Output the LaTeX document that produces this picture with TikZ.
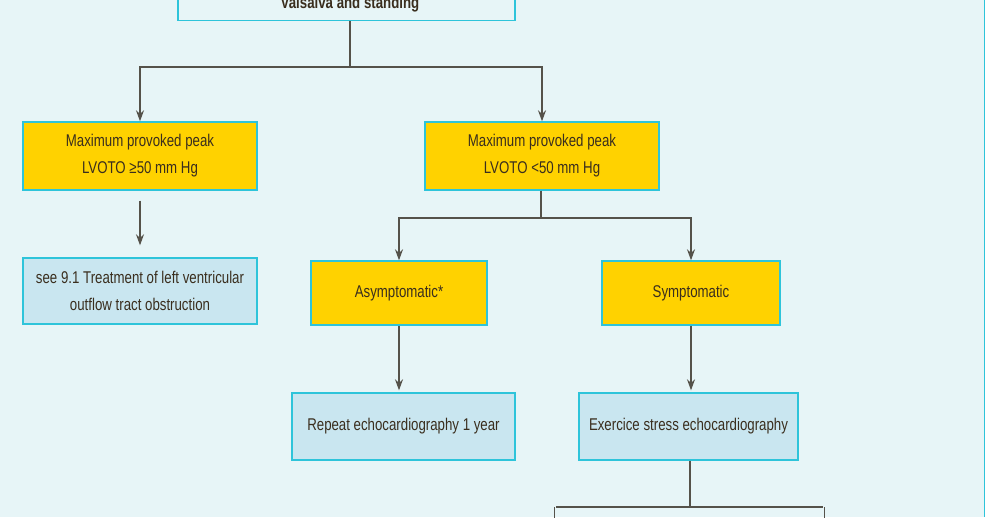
\documentclass[tikz,border=0pt]{standalone}
\usepackage{fontspec}
\setmainfont[FakeStretch=0.78]{Liberation Sans}
\definecolor{bg}{HTML}{E7F5F7}
\definecolor{yel}{HTML}{FFD200}
\definecolor{blu}{HTML}{C9E6F0}
\definecolor{brd}{HTML}{2EC4DA}
\definecolor{ln}{HTML}{55524A}
\definecolor{txt}{HTML}{3A2E1E}
\usetikzlibrary{arrows.meta}
\begin{document}
\begin{tikzpicture}[x=1pt,y=-1pt,
  box/.style={draw=brd,line width=1.4pt,text=txt,font=\fontsize{17}{27}\selectfont,align=center,inner sep=0pt},
  ybox/.style={box,fill=yel},
  bbox/.style={box,fill=blu},
  wbox/.style={box,fill=bg},
  conn/.style={draw=ln,line width=1.2pt},
  arr/.style={conn,-{Stealth[length=11pt,width=8pt]}}]
\fill[bg] (0,0) rectangle (985,517);
\useasboundingbox (0,0) rectangle (985,517);
\draw[brd,line width=1pt] (984,0) -- (984,517);
\node[wbox,minimum width=337pt,minimum height=60pt,anchor=south] (top) at (346.5,21) {};
\node[text=txt,font=\fontsize{17}{20}\selectfont\bfseries,inner sep=0pt] (toptxt) at (350,4) {Valsalva and standing};
\node[ybox,minimum width=234pt,minimum height=68pt] (a) at (140,156) {Maximum provoked peak\\LVOTO ≥50 mm Hg};
\node[ybox,minimum width=234pt,minimum height=68pt] (b) at (542,156) {Maximum provoked peak\\LVOTO <50 mm Hg};
\node[bbox,minimum width=234pt,minimum height=66pt] (c) at (140,291) {see 9.1 Treatment of left ventricular\\outflow tract obstruction};
\node[ybox,minimum width=176pt,minimum height=64pt] (d) at (399,293) {Asymptomatic*};
\node[ybox,minimum width=178pt,minimum height=64pt] (e) at (691,293) {Symptomatic};
\node[bbox,minimum width=223pt,minimum height=67pt] (f) at (403.5,426.5) {Repeat echocardiography 1 year};
\node[bbox,minimum width=219pt,minimum height=67pt] (g) at (688.5,426.5) {Exercice stress echocardiography};
\coordinate (t1) at (350,67);
\coordinate (b1) at (541,218);
\coordinate (g1) at (690,507);
\coordinate (g1l) at (556,507);
\coordinate (g1r) at (823,507);
\draw[conn] (top.south -| t1) -- (t1);
\draw[arr] (t1) -| (a.north);
\draw[arr] (t1) -| (b.north);
\draw[arr] ([yshift=-10pt]a.south) -- ([yshift=12pt]c.north);
\draw[conn] (b.south -| b1) -- (b1);
\draw[arr] (b1) -| (d.north);
\draw[arr] (b1) -| (e.north);
\draw[arr] (d.south) -- ([yshift=2pt]f.north -| d.south);
\draw[arr] (e.south) -- ([yshift=2pt]g.north -| e.south);
\draw[conn] (g.south -| g1) -- (g1);
\draw[conn] (g1l) -- (g1r);
\draw[conn] ([xshift=-1.5pt]g1l) -- ++(0,12);
\draw[conn] ([xshift=1.5pt]g1r) -- ++(0,12);
\end{tikzpicture}
\end{document}
